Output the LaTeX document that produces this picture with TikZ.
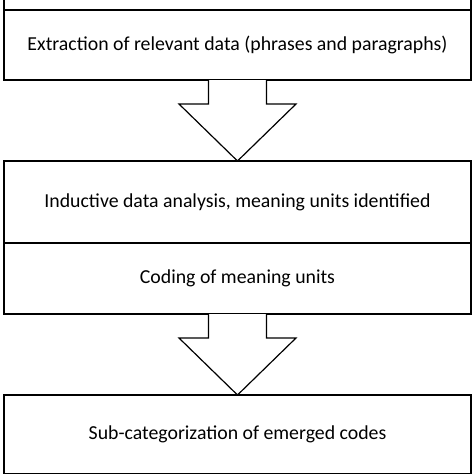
\documentclass[tikz,border=0pt]{standalone}
\usepackage{fontspec}
\setmainfont{Carlito}
\usetikzlibrary{positioning}
\tikzset{
  stage/.style={draw, line width=1.2pt, minimum width=467pt, inner sep=0pt, outer sep=0pt,
    font=\fontsize{19.8}{23}\selectfont},
  blockarrow/.style={draw, line width=1.2pt, fill=white}
}
\begin{document}
\begin{tikzpicture}[x=1pt, y=1pt]
      \useasboundingbox (0,0) rectangle (474,-474);
      \clip (0,0) rectangle (474,-474);
      \node[stage, minimum height=40pt, anchor=south] (prev) at (237.5,-10) {};
      \node[stage, minimum height=70pt, below=0pt of prev] (extract) {Extraction of relevant data (phrases and paragraphs)};
      \node[stage, minimum height=82pt, below=81pt of extract] (analysis) {Inductive data analysis, meaning units identified};
      \node[stage, minimum height=71pt, below=0pt of analysis] (coding) {Coding of meaning units};
      \node[stage, minimum height=79pt, below=81pt of coding] (subcat) {Sub-categorization of emerged codes};
      % block arrows between the stages
      \foreach \from/\to in {extract/analysis, coding/subcat}
        \draw[blockarrow] ([xshift=-29pt]\from.south) -- ++(0,-24) -- ++(-29.5,0)
          -- (\to.north) -- ([xshift=58.5pt, yshift=57pt]\to.north) -- ++(-29.5,0)
          -- ([xshift=29pt]\from.south);
\end{tikzpicture}
\end{document}
